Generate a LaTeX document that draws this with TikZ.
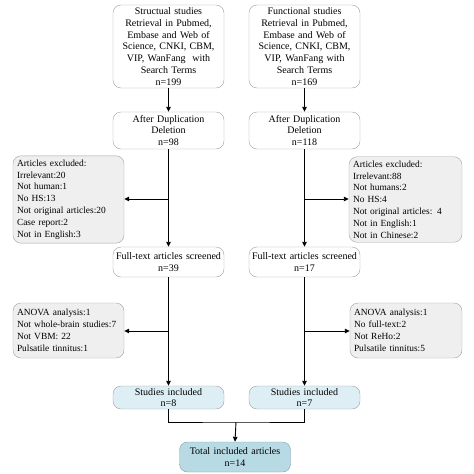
\documentclass[tikz,border=0pt]{standalone}
\usepackage{fontspec}
\setmainfont{Liberation Serif}
\usetikzlibrary{arrows.meta}
\definecolor{bordergray}{HTML}{A0A0A0}
\definecolor{exclfill}{HTML}{EFEFEF}
\definecolor{studfill}{HTML}{DDEEF4}
\definecolor{totfill}{HTML}{B8DAE4}
\definecolor{totborder}{HTML}{7F9FAA}
\tikzset{
  box/.style={draw=bordergray, rounded corners=8pt, align=center, inner sep=1pt,
    font=\fontsize{10}{11.8}\selectfont, text width=#1},
  box/.default=109pt,
  whitebox/.style={box, fill=white},
  exclbox/.style={box=103pt, fill=exclfill, align=left, inner sep=4pt,
    font=\fontsize{9.4}{11.8}\selectfont},
  studbox/.style={box, fill=studfill},
  totbox/.style={box, fill=totfill, draw=totborder},
  arr/.style={-{Triangle[length=5pt,width=4.5pt]}, line width=0.9pt, black},
  ln/.style={line width=0.9pt, black}
}
\begin{document}
\begin{tikzpicture}[x=1pt,y=-1pt]
\useasboundingbox (0,0) rectangle (474,474);
% top
\node[whitebox, minimum height=83pt] (tl) at (168.5,46.5) {Structual studies\\Retrieval in Pubmed,\\Embase and Web of\\Science, CNKI, CBM,\\VIP, WanFang\ \ with\\Search Terms\\n=199};
\node[whitebox, minimum height=83pt] (tr) at (304.5,46.5) {Functional studies\\Retrieval in Pubmed,\\Embase and Web of\\Science, CNKI, CBM,\\VIP, WanFang with\\Search Terms\\n=169};
% duplication
\node[whitebox, minimum height=37pt] (dl) at (168.5,130.5) {After Duplication\\Deletion\\n=98};
\node[whitebox, minimum height=37pt] (dr) at (304.5,130.5) {After Duplication\\Deletion\\n=118};
% excluded 1
\node[exclbox, minimum height=87pt] (el) at (68.5,199.5) {Articles excluded:\\Irrelevant:20\\Not human:1\\No HS:13\\Not original articles:20\\Case report:2\\Not in English:3};
\node[exclbox, text width=105pt, minimum height=81pt] (er) at (405.5,199.5) {Articles excluded:\\Irrelevant:88\\Not humans:2\\No HS:4\\Not original articles: 4\\Not in English:1\\Not in Chinese:2};
% full text
\node[whitebox, minimum height=30pt] (fl) at (168.5,262) {Full-text articles screened\\n=39};
\node[whitebox, minimum height=30pt] (fr) at (304.5,262) {Full-text articles screened\\n=17};
% excluded 2
\node[exclbox, minimum height=55pt] (xl) at (68.5,330.5) {ANOVA analysis:1\\Not whole-brain studies:7\\Not VBM: 22\\Pulsatile tinnitus:1};
\node[exclbox, text width=104pt, minimum height=55pt] (xr) at (406,330.5) {ANOVA analysis:1\\No full-text:2\\Not ReHo:2\\Pulsatile tinnitus:5};
% studies included
\node[studbox, minimum height=23pt] (sl) at (168.5,397.5) {Studies included\\n=8};
\node[studbox, minimum height=23pt] (sr) at (304.5,397.5) {Studies included\\n=7};
% total
\node[totbox, minimum height=30pt] (tot) at (235,457) {Total included articles\\n=14};
% connectors
\draw[arr] (tl) -- (dl);
\draw[arr] (tr) -- (dr);
\draw[arr] (dl) -- (fl);
\draw[arr] (dr) -- (fr);
\coordinate (bl1) at (168.5,199);
\coordinate (br1) at (304.5,199);
\draw[arr] (bl1) -- (bl1 -| el.east);
\draw[arr] (br1) -- (br1 -| er.west);
\draw[arr] (fl) -- (sl);
\draw[arr] (fr) -- (sr);
\coordinate (bl2) at (168.5,331);
\coordinate (br2) at (304.5,331);
\draw[arr] (bl2) -- (bl2 -| xl.east);
\draw[arr] (br2) -- (br2 -| xr.west);
\coordinate (m) at (236,422);
\draw[ln] (sl.south) |- (m) -| (sr.south);
\draw[arr] (m) -- (tot.north);
\end{tikzpicture}
\end{document}
